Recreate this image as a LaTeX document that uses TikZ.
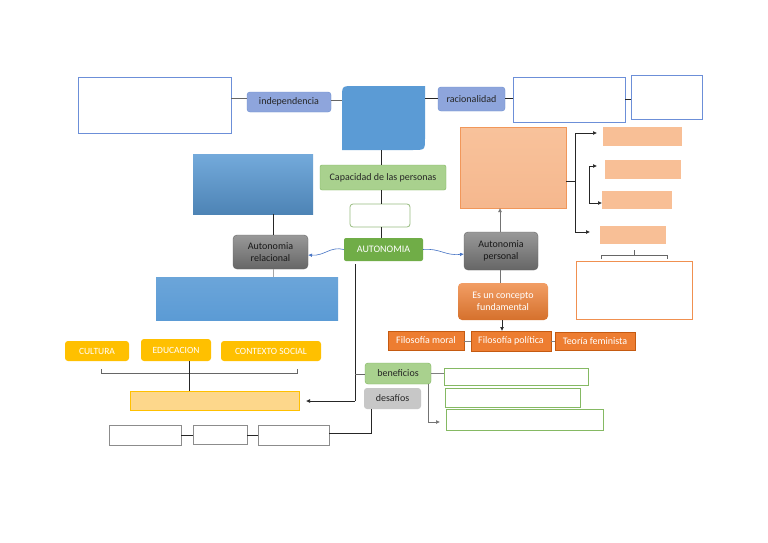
\documentclass[tikz,border=0pt]{standalone}
\usepackage{fontspec}
\setmainfont{Carlito}
\usetikzlibrary{arrows.meta}
\definecolor{bluefill}{HTML}{5B9BD5}
\definecolor{blueborder}{HTML}{4472C4}
\definecolor{lineblue}{HTML}{6C8FD8}
\definecolor{pillblue}{HTML}{8EA5DC}
\definecolor{greenfill}{HTML}{A9D18E}
\definecolor{greenborder}{HTML}{7FB55E}
\definecolor{greendark}{HTML}{70AD47}
\definecolor{orangefill}{HTML}{ED7D31}
\definecolor{orangeborder}{HTML}{C55A11}
\definecolor{salmon}{HTML}{F8BF96}
\definecolor{yellowfill}{HTML}{FFC000}
\definecolor{lightyellow}{HTML}{FDD78B}
\tikzset{
  x=1pt, y=-1pt,
  base/.style={anchor=north west, inner sep=0pt, outer sep=0pt, align=center,
    font=\fontsize{10}{11.5}\selectfont},
  wbox/.style={base, draw=lineblue, line width=0.9pt, fill=white},
  pill/.style={base, rounded corners=3pt, fill=pillblue, draw=blueborder!80, text=black!85},
  greenpill/.style={base, rounded corners=3pt, fill=greenfill, draw=greenborder, text=black!85},
  graypill/.style={base, rounded corners=4pt, draw=black!60, top color=black!40, bottom color=black!60, text=black!90},
  orpill/.style={base, fill=orangefill, draw=orangeborder, text=white},
  salbox/.style={base, fill=salmon},
  yelpill/.style={base, rounded corners=3pt, fill=yellowfill, text=white, font=\fontsize{9.5}{10.5}\selectfont},
  gbox/.style={base, draw=greendark!85, line width=0.7pt, fill=white},
  plainbox/.style={base, draw=black!45, line width=0.6pt, fill=white},
  conn/.style={draw=black!85, line width=0.7pt},
  arr/.style={conn, -{Latex[length=4pt,width=4pt]}},
  barr/.style={draw=blueborder, line width=0.6pt, -{Latex[length=4pt,width=3.5pt]}},
}
\begin{document}
\begin{tikzpicture}
\useasboundingbox (0,0) rectangle (768,543);
\fill[white] (0,0) rectangle (768,543);

% top row
\node[wbox, minimum width=153pt, minimum height=56pt] (lbox) at (78,77) {};
\node[pill, minimum width=84pt, minimum height=20pt] (indep) at (247,92) {independencia};
\node[base, minimum width=83pt, minimum height=64pt] (bshape) at (342,86) {};
\fill[bluefill] (342,150) -- (342,98) .. controls (342,86) .. (354,86) -- (425,86)
   -- (425,138) .. controls (425,150) .. (413,150) -- cycle;
\node[pill, minimum width=67pt, minimum height=24pt] (rac) at (438,87) {racionalidad};
\node[wbox, minimum width=112pt, minimum height=45pt] (rbox1) at (513,77) {};
\node[wbox, minimum width=71pt, minimum height=44pt] (rbox2) at (631,75) {};

\draw[conn, draw=black!60] (lbox.east |- 0,98) -- (indep.west |- 0,98);
\draw[conn, draw=black!60] (indep.east |- 0,100) -- (bshape.west |- 0,100);
\draw[conn] (bshape.east |- 0,98) -- (rac.west |- 0,98);
\draw[conn] (rac.east |- 0,98) -- (rbox1.west |- 0,98);
\draw[conn] (rbox1.east |- 0,99) -- (rbox2.west |- 0,99);

% center column
\node[greenpill, rounded corners=2pt, minimum width=126pt, minimum height=25pt] (cap) at (320,165) {Capacidad de las personas};
\node[base, draw=greenfill!90!black, line width=0.8pt, rounded corners=3pt, minimum width=60pt, minimum height=23pt] (gw) at (350,204) {};
\node[base, rounded corners=2pt, fill=greendark, text=white, minimum width=79pt, minimum height=23pt] (auto) at (344,238) {AUTONOMIA};
\draw[conn] (bshape.south -| 381,0) -- (cap.north -| 381,0);
\draw[conn] (cap.south -| 381,0) -- (gw.north -| 381,0);
\draw[conn] (gw.south -| 381,0) -- (auto.north -| 381,0);

% left column
\node[base, top color=bluefill!85!white, bottom color=bluefill!85!black, minimum width=120pt, minimum height=60pt] (bgrad) at (193,154) {};
\node[graypill, minimum width=75pt, minimum height=34pt] (rel) at (233,235) {Autonomia\\relacional};
\node[base, top color=bluefill!90!white, bottom color=bluefill, minimum width=182pt, minimum height=43pt] (bwide) at (156,277) {};
\draw[conn] (bgrad.south -| 273,0) -- (rel.north -| 273,0);
\draw[conn, draw=black!35] (rel.south -| 273,0) -- (bwide.north -| 273,0);

\draw[barr] (auto.west) .. controls (330,246) and (325,256) .. (rel.east |- 0,255);

% right column
\node[graypill, minimum width=74pt, minimum height=38pt] (pers) at (464,232) {Autonomia\\personal};
\draw[barr] (auto.east) .. controls (440,248) and (445,256) .. (pers.west |- 0,254);
\node[base, draw=orangefill!80!white, line width=0.8pt, top color=salmon!95!white, bottom color=orangefill!55!white, minimum width=106pt, minimum height=81pt] (bigor) at (460,127) {};
\draw[arr, draw=black!55] (pers.north -| 500,0) -- (bigor.south -| 500,0);

\node[salbox, minimum width=79pt, minimum height=19pt] (s1) at (603,127) {};
\node[salbox, minimum width=76pt, minimum height=19pt] (s2) at (605,160) {};
\node[salbox, minimum width=70pt, minimum height=18pt] (s3) at (602,191) {};
\node[salbox, minimum width=66pt, minimum height=18pt] (s4) at (600,226) {};
\coordinate (tA) at (575,181);
\coordinate (tTop) at (575,133);
\coordinate (tBot) at (575,232);
\coordinate (uTop) at (589,166);
\coordinate (uBot) at (589,203);
\draw[conn] (bigor.east |- tA) -- (tA);
\draw[conn] (tTop) -- (tBot);
\draw[arr] (tTop) -- ([xshift=-6pt]s1.west |- tTop);
\draw[arr] (tBot) -- ([xshift=-10pt]s4.west |- tBot);
\draw[conn] (uTop) -- (uBot);
\draw[arr] (uTop) -- ([xshift=-8pt]s2.west |- uTop);
\draw[arr] (uBot) -- (s3.west |- uBot);
\node[base, draw=orangefill!85!white, line width=0.8pt, minimum width=116pt, minimum height=58pt] (obox) at (576,261) {};
\coordinate (brc) at (634,255);
\draw[conn, draw=black!60, line width=0.6pt] (601,259) -- (601,255) -- (667,255) -- (667,259);
\draw[conn, draw=black!60, line width=0.6pt] (brc) -- (634,250);

\node[base, rounded corners=4pt, top color=orangefill!75!white, bottom color=orangefill!90!black, text=white, minimum width=90pt, minimum height=37pt] (fund) at (458,283) {Es un concepto\\fundamental};
\draw[conn, draw=black!55] (pers.south -| 500,0) -- (fund.north -| 500,0);

\node[orpill, minimum width=80pt, minimum height=20pt] (fpol) at (471,331) {Filosofía política};
\node[orpill, minimum width=76pt, minimum height=19pt] (fmor) at (388,331) {Filosofía moral};
\node[orpill, minimum width=80pt, minimum height=18pt] (tfem) at (555,332) {Teoría feminista};
\draw[arr] (fund.south -| 502,0) -- (fpol.north -| 502,0);
\draw[conn, draw=black!50] (fmor.east |- 0,341) -- (fpol.west |- 0,341);
\draw[conn, draw=black!50] (fpol.east |- 0,341) -- (tfem.west |- 0,341);

% bottom center
\node[greenpill, rounded corners=3pt, minimum width=66pt, minimum height=21pt] (ben) at (365,363) {beneficios};
\node[base, rounded corners=3pt, fill=black!22, text=black!85, minimum width=57pt, minimum height=21pt] (des) at (364,388) {desafíos};
\node[gbox, minimum width=144pt, minimum height=17pt] (g1) at (444,368) {};
\node[gbox, minimum width=135pt, minimum height=19pt] (g2) at (445,388) {};
\node[gbox, minimum width=157pt, minimum height=21pt] (g3) at (446,409) {};
\coordinate (vTop) at (355,264);
\coordinate (vBot) at (355,401);
\draw[conn] (vTop) -- (vBot);
\draw[conn, draw=black!60] (vTop |- 0,374) -- (ben.west |- 0,374);
\draw[conn, draw=black!50] (ben.east |- 0,373) -- (g1.west |- 0,373);
\coordinate (bD) at (428,422);
\draw[arr, draw=black!55] (ben.south -| bD) -- (bD) -- ([xshift=-6pt]g3.west |- bD);

% yellow cluster
\node[yelpill, minimum width=64pt, minimum height=20pt] (cul) at (65,341) {CULTURA};
\node[yelpill, minimum width=70pt, minimum height=22pt] (edu) at (141,339) {EDUCACION};
\node[yelpill, minimum width=100pt, minimum height=20pt] (ctx) at (221,341) {CONTEXTO SOCIAL};
\node[base, fill=lightyellow, draw=yellowfill, line width=0.7pt, minimum width=169pt, minimum height=19pt] (ybox) at (130,391) {};
\draw[conn, draw=black!60, line width=0.6pt] (101,369) -- (101,373) -- (297,373) -- (297,369);
\draw[conn] (edu.south -| 189,0) -- (ybox.north -| 189,0);
\draw[arr] (vBot) -- ([xshift=7pt]ybox.east |- vBot);

% bottom white boxes
\node[plainbox, minimum width=72pt, minimum height=20pt] (w1) at (109,425) {};
\node[plainbox, minimum width=54pt, minimum height=19pt] (w2) at (193,425) {};
\node[plainbox, minimum width=71pt, minimum height=20pt] (w3) at (258,425) {};
\draw[conn] (w1.east |- 0,435) -- (w2.west |- 0,435);
\draw[conn] (w2.east |- 0,435) -- (w3.west |- 0,435);
\coordinate (dC) at (371,433);
\draw[conn] (des.south -| dC) -- (dC) -- (w3.east |- dC);
\end{tikzpicture}
\end{document}
